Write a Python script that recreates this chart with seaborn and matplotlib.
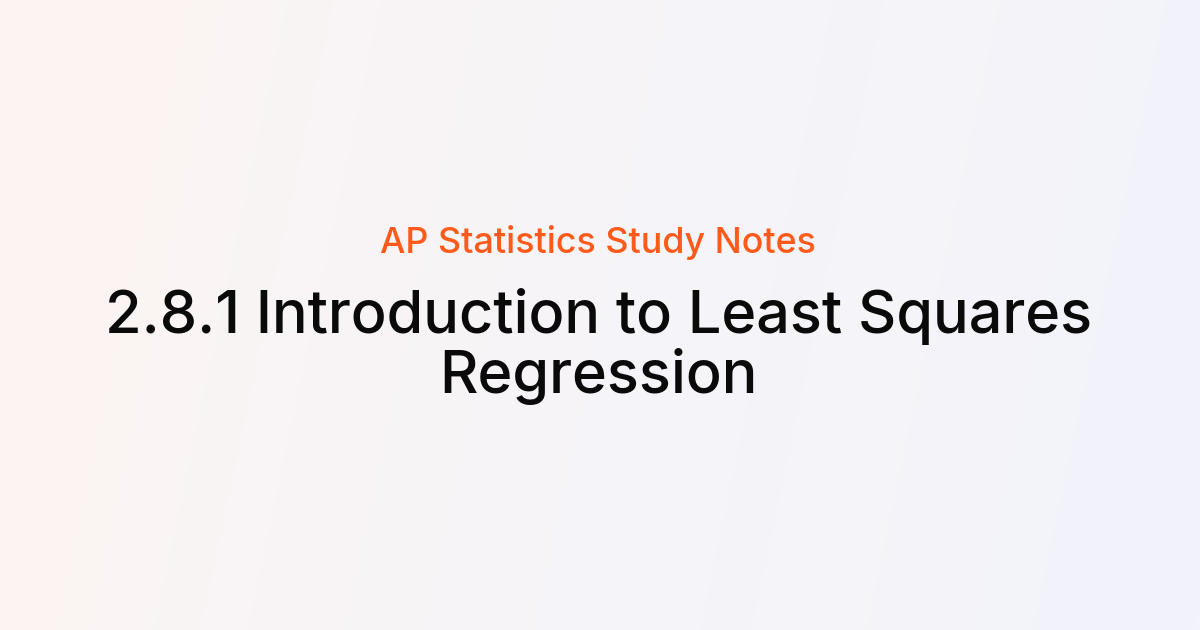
import numpy as np
import matplotlib.pyplot as plt
import seaborn as sns
from matplotlib.colors import LinearSegmentedColormap

# === Textos de la tarjeta
subtitulo = "AP Statistics Study Notes"
titulo_lineas = ["2.8.1 Introduction to Least Squares", "Regression"]
baselines_px = [333, 393]

sns.set_theme(style="white")
plt.rcParams['font.family'] = ['Inter', 'DejaVu Sans']

fig = plt.figure(figsize=(12, 6.3), dpi=100)
ax = fig.add_axes([0, 0, 1, 1])
ax.set_axis_off()

# === Fondo degradado (rosado a lavanda, ligeramente diagonal)
xx, yy = np.meshgrid(np.linspace(0, 1, 600), np.linspace(0, 1, 315))
t = np.clip(xx * 0.9 + (1 - yy) * 0.1, 0, 1)
cmap = LinearSegmentedColormap.from_list("fondo", ["#fdf4f2", "#f6f5f8", "#f2f3fb"])
ax.imshow(t, cmap=cmap, extent=[0, 1, 0, 1], aspect="auto", origin="lower", zorder=0)
ax.set_xlim(0, 1)
ax.set_ylim(0, 1)

# === Subtítulo naranja
fig.text(0.4985, 1 - 253 / 630, subtitulo, ha="center", va="baseline",
         fontsize=25.8, fontweight="medium", color="#ff5a1a")

# === Título
for linea, b in zip(titulo_lineas, baselines_px):
    fig.text(0.4985, 1 - b / 630, linea, ha="center", va="baseline",
             fontsize=42.8, fontweight="medium", color="#0a0a0a")

fig.savefig("out.png", dpi=100)
